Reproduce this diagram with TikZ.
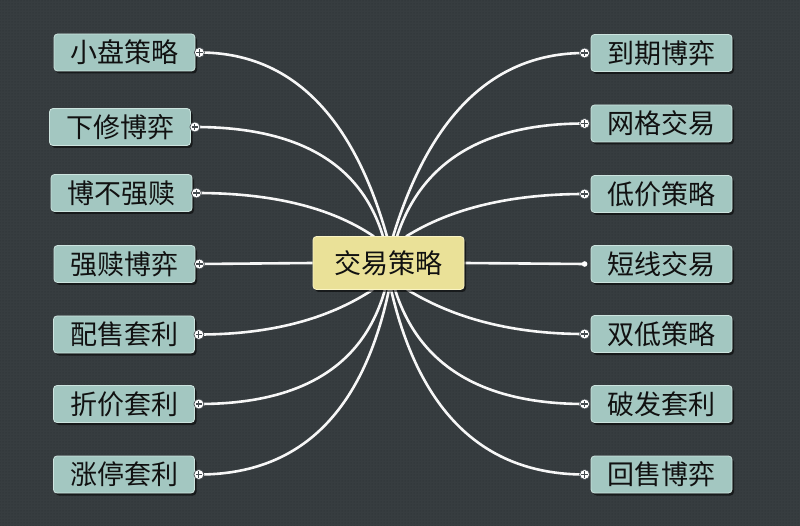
\documentclass[tikz,border=0pt]{standalone}
\usepackage{fontspec}
\setmainfont{Noto Sans CJK SC}
\usetikzlibrary{shadows,patterns,calc}
\definecolor{bgc}{RGB}{55,61,64}
\definecolor{bgdot}{RGB}{42,47,50}
\definecolor{leaf}{RGB}{163,199,193}
\definecolor{leafedge}{RGB}{205,228,223}
\definecolor{core}{RGB}{234,225,152}
\definecolor{coreedge}{RGB}{250,244,196}
\definecolor{txt}{RGB}{17,17,17}
\definecolor{mk}{RGB}{70,76,80}
\pgfdeclarelayer{bg}
\pgfdeclarelayer{edges}
\pgfsetlayers{bg,edges,main}
\begin{document}
\begin{tikzpicture}[x=1pt,y=-1pt,
  boxbase/.style={rounded corners=3.5pt, inner sep=0pt, text=txt,
    font=\fontsize{27}{27}\selectfont,
    drop shadow={shadow xshift=2pt, shadow yshift=-2.5pt, fill=black, opacity=0.55}},
  leafbox/.style={boxbase, draw=leafedge, line width=0.8pt, fill=leaf,
    minimum width=141pt, minimum height=37pt},
  corebox/.style={boxbase, draw=coreedge, line width=0.8pt, fill=core,
    minimum width=151pt, minimum height=53pt},
  edge/.style={draw=white!94!gray, line width=2.6pt},
  markring/.style={draw=mk, line width=0.7pt, fill=white},
  markplus/.style={draw=mk, line width=1.1pt}
]
\begin{pgfonlayer}{bg}
  \fill[bgc] (0,0) rectangle (800,526);
  \fill[pattern=dots, pattern color=bgdot] (0,0) rectangle (800,526);
\end{pgfonlayer}
\useasboundingbox (0,0) rectangle (800,526);

% centre
\node[corebox] (core) at (388.5,263) {交易策略};

% left leaves
\node[leafbox] (L1) at (124.5,52.5) {小盘策略};
\node[leafbox] (L2) at (120,127)   {下修博弈};
\node[leafbox] (L3) at (121.5,193) {博不强赎};
\node[leafbox] (L4) at (124.5,264) {强赎博弈};
\node[leafbox] (L5) at (124,334.5) {配售套利};
\node[leafbox] (L6) at (124,404)   {折价套利};
\node[leafbox] (L7) at (124,474.5) {涨停套利};
% right leaves
\node[leafbox] (R1) at (661.5,53)    {到期博弈};
\node[leafbox] (R2) at (661.5,123.5) {网格交易};
\node[leafbox] (R3) at (661.5,194)   {低价策略};
\node[leafbox] (R4) at (661.5,264)   {短线交易};
\node[leafbox] (R5) at (661.5,334)   {双低策略};
\node[leafbox] (R6) at (661.5,404)   {破发套利};
\node[leafbox] (R7) at (661.5,474.5) {回售博弈};

% marker points
\foreach \n in {L1,L2,L3,L4,L5,L6,L7} \coordinate (m\n) at ([xshift=4pt]\n.east);
\foreach \n in {R1,R2,R3,R4,R5,R6,R7} \coordinate (m\n) at ([xshift=-6pt]\n.west);

% connectors
\begin{pgfonlayer}{edges}
\foreach \n/\my/\qx/\ex/\ey in {
    L1/52.5/335/387/236.5, L2/127/350/383/236.5, L3/193/310/374/236.5,
    L5/334.5/305/373/289.5, L6/404/353/385/289.5, L7/474.5/350/389/289.5,
    R1/53/449/393/236.5, R2/123.5/434/397/236.5, R3/194/474/406/236.5,
    R5/334/479/407/289.5, R6/404/431/395/289.5, R7/474.5/434/391/289.5}{
  \coordinate (q\n) at (\qx,\my);
  \coordinate (e\n) at (\ex,\ey);
  \draw[edge] (m\n) .. controls ($(m\n)!2/3!(q\n)$) and ($(e\n)!2/3!(q\n)$) .. (e\n);
}
\draw[edge] (mL4) -- (core.west);
\draw[edge] (core.east) -- (mR4);
\end{pgfonlayer}

% collapse markers
\foreach \m in {mL1,mL2,mL3,mL4,mL5,mL6,mL7,mR1,mR2,mR3,mR5,mR6,mR7}{
  \draw[markring] (\m) circle (5);
  \draw[markplus] ($(\m)+(-3.2,0)$) -- ($(\m)+(3.2,0)$)
                  ($(\m)+(0,-3.2)$) -- ($(\m)+(0,3.2)$);
}
\fill[white] (mR4) circle (2.8);
\end{tikzpicture}
\end{document}
